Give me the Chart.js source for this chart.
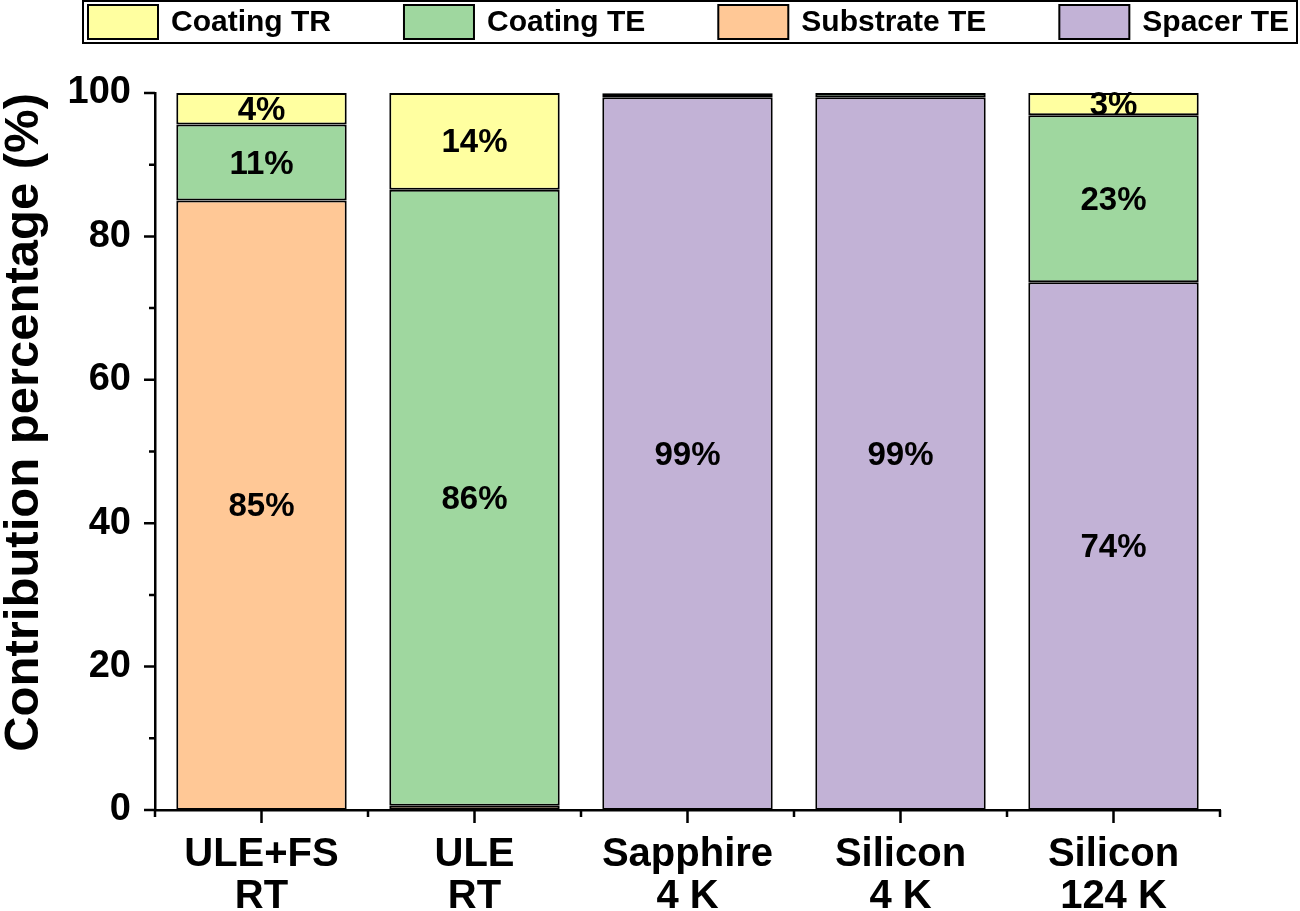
<!DOCTYPE html>
<html>
<head>
<meta charset="utf-8">
<script src="https://cdn.jsdelivr.net/npm/chart.js@4.4.0/dist/chart.umd.min.js"></script>
<style>
  body { margin: 0; background: #fff; }
  #wrap { width: 1300px; height: 911px; }
</style>
</head>
<body>
<div id="wrap"><canvas id="chartContribuicao"></canvas></div>
<script>
const categorias = [['ULE+FS', 'RT'], ['ULE', 'RT'], ['Sapphire', '4 K'], ['Silicon', '4 K'], ['Silicon', '124 K']]
const substrateTE = [85.0, 0.6, 0, 0, 0]
const spacerTE = [0, 0, 99.4, 99.4, 73.6]
const coatingTE = [10.6, 85.9, 0.5, 0.6, 23.3]
const coatingTR = [4.4, 13.5, 0.1, 0, 3.1]
const yTicks = [0, 20, 40, 60, 80, 100]

const FONT = "'Liberation Sans', Arial, sans-serif"
const ctx = document.getElementById('chartContribuicao')

// legenda com moldura, desenhada a mao
const legendaBox = {
    id: 'legendaBox',
    afterDraw(chart) {
        const c = chart.ctx
        const ordem = ['Coating TR', 'Coating TE', 'Substrate TE', 'Spacer TE']
        c.save()
        c.lineWidth = 2
        c.strokeStyle = '#000'
        c.strokeRect(83, 1, 1214, 42)
        c.font = 'bold 30px ' + FONT
        c.textBaseline = 'middle'
        c.textAlign = 'left'
        let x = 88
        ordem.forEach(nome => {
            const ds = chart.data.datasets.find(d => d.label === nome)
            c.fillStyle = ds.backgroundColor
            c.fillRect(x, 5, 70, 34)
            c.lineWidth = 2
            c.strokeRect(x, 5, 70, 34)
            c.fillStyle = '#000'
            c.fillText(nome, x + 83, 23)
            x += 83 + c.measureText(nome).width + 73
        })
        c.restore()
    }
}

// rotulos de porcentagem + marcas dos eixos
const rotulos = {
    id: 'rotulos',
    afterDatasetsDraw(chart) {
        const c = chart.ctx
        c.save()
        c.font = 'bold 33px ' + FONT
        c.fillStyle = '#000'
        c.textAlign = 'center'
        c.textBaseline = 'middle'
        chart.data.datasets.forEach((ds, i) => {
            const meta = chart.getDatasetMeta(i)
            meta.data.forEach((el, j) => {
                const v = ds.data[j]
                if (v < 2.5) return
                c.fillText(Math.round(v) + '%', el.x, (el.y + el.base) / 2 + 2)
            })
        })

        const x = chart.scales.x
        const y = chart.scales.y
        c.strokeStyle = '#000'
        c.lineWidth = 2.5
        c.beginPath()
        for (let v = 0; v <= 100; v += 10) {
            const py = y.getPixelForValue(v)
            const len = v % 20 === 0 ? 11 : 6
            c.moveTo(x.left, py)
            c.lineTo(x.left - len, py)
        }
        const n = categorias.length
        for (let i = 0; i < n; i++) {
            const px = x.getPixelForTick(i)
            c.moveTo(px, y.bottom)
            c.lineTo(px, y.bottom + 13)
        }
        const passo = (x.getPixelForTick(1) - x.getPixelForTick(0))
        for (let i = 0; i <= n; i++) {
            const px = x.getPixelForTick(0) - passo / 2 + i * passo
            c.moveTo(px, y.bottom)
            c.lineTo(px, y.bottom + 7)
        }
        c.stroke()
        c.restore()
    }
}

new Chart(ctx, {
    type: 'bar',
    data: {
        labels: categorias,
        datasets: [
            { label: 'Substrate TE', data: substrateTE, backgroundColor: '#FFC896' },
            { label: 'Spacer TE', data: spacerTE, backgroundColor: '#C2B2D6' },
            { label: 'Coating TE', data: coatingTE, backgroundColor: '#9FD79F' },
            { label: 'Coating TR', data: coatingTR, backgroundColor: '#FFFFA0' }
        ].map(d => Object.assign(d, {
            borderColor: '#000',
            borderWidth: 2,
            borderSkipped: false,
            barPercentage: 0.8,
            categoryPercentage: 1.0
        }))
    },
    options: {
        maintainAspectRatio: false,
        animation: false,
        layout: {
            padding: { top: 93, right: 80, left: 0, bottom: 0 }
        },
        plugins: {
            legend: { display: false },
            tooltip: { enabled: false }
        },
        scales: {
            x: {
                stacked: true,
                grid: { display: false, drawTicks: false },
                border: { display: true, color: '#000', width: 2.5 },
                ticks: {
                    color: '#000',
                    padding: 24,
                    maxRotation: 0,
                    font: { family: FONT, size: 40, weight: 'bold', lineHeight: 1.05 }
                },
                afterFit: s => { s.height = 101 }
            },
            y: {
                stacked: true,
                min: 0,
                max: 100,
                afterBuildTicks: s => { s.ticks = yTicks.map(v => ({ value: v })) },
                grid: { display: false, drawTicks: false },
                border: { display: true, color: '#000', width: 2.5 },
                ticks: {
                    color: '#000',
                    padding: 24,
                    font: { family: FONT, size: 38, weight: 'bold' }
                },
                title: {
                    display: true,
                    text: 'Contribution percentage (%)',
                    color: '#000',
                    align: 'end',
                    padding: 0,
                    font: { family: FONT, size: 49, weight: 'bold', lineHeight: 1.0 }
                },
                afterFit: s => { s.width = 155 }
            }
        }
    },
    plugins: [rotulos, legendaBox]
})
</script>
</body>
</html>
